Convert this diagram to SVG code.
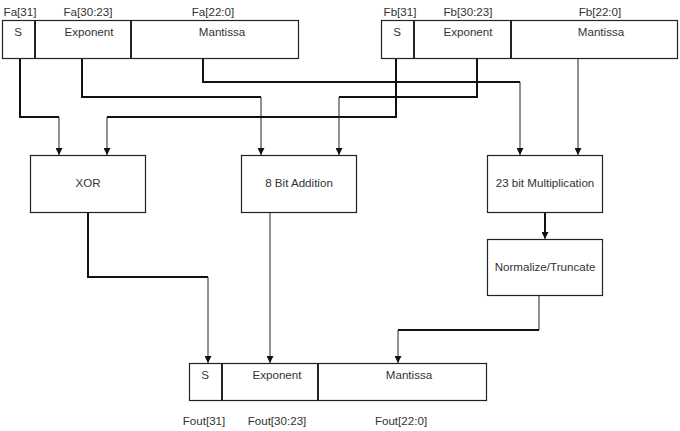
<svg xmlns="http://www.w3.org/2000/svg" width="680" height="431" viewBox="0 0 680 431">
<defs>
<marker id="ah" viewBox="0 0 10 10" refX="10" refY="5" markerWidth="7" markerHeight="7" markerUnits="userSpaceOnUse" orient="auto">
<path d="M0,0 L10,5 L0,10 Z" fill="#111"/>
</marker>
<style>
text{font-family:"Liberation Sans",Arial,sans-serif;font-size:11.6px;fill:#333;text-anchor:middle}
.box{fill:#fff;stroke:#222;stroke-width:1.2}
.div{stroke:#222;stroke-width:2}
.thick{fill:none;stroke:#111;stroke-width:2}
.thin{fill:none;stroke:#222;stroke-width:1}
</style>
</defs>
<rect width="680" height="431" fill="#fff"/>
<g id="Fa">
<rect class="box" x="2.5" y="20.5" width="296" height="38"/>
<line class="div" x1="35" y1="20" x2="35" y2="59"/>
<line class="div" x1="131" y1="20" x2="131" y2="59"/>
<text x="20" y="16">Fa[31]</text>
<text x="88" y="16">Fa[30:23]</text>
<text x="213" y="16">Fa[22:0]</text>
<text x="18" y="36">S</text>
<text x="89" y="36">Exponent</text>
<text x="222" y="36">Mantissa</text>
</g>
<g id="Fb">
<rect class="box" x="381.5" y="20.5" width="296" height="38"/>
<line class="div" x1="414" y1="20" x2="414" y2="59"/>
<line class="div" x1="511" y1="20" x2="511" y2="59"/>
<text x="400" y="16">Fb[31]</text>
<text x="468" y="16">Fb[30:23]</text>
<text x="600" y="16">Fb[22:0]</text>
<text x="397" y="36">S</text>
<text x="468" y="36">Exponent</text>
<text x="601" y="36">Mantissa</text>
</g>
<g id="xor">
<rect class="box" x="30.5" y="155.5" width="115" height="57"/>
<text x="88" y="187">XOR</text>
</g>
<g id="add">
<rect class="box" x="241.5" y="155.5" width="115" height="57"/>
<text x="299" y="187">8 Bit Addition</text>
</g>
<g id="mult">
<rect class="box" x="487.5" y="155.5" width="115" height="57"/>
<text x="545" y="187">23 bit Multiplication</text>
</g>
<g id="norm">
<rect class="box" x="487.5" y="239.5" width="115" height="56"/>
<text x="545" y="271">Normalize/Truncate</text>
</g>
<g id="Fout">
<rect class="box" x="189.5" y="363.5" width="297" height="37"/>
<line class="div" x1="222" y1="363" x2="222" y2="401"/>
<line class="div" x1="318" y1="363" x2="318" y2="401"/>
<text x="205" y="379">S</text>
<text x="277" y="379">Exponent</text>
<text x="409" y="379">Mantissa</text>
<text x="204" y="425">Fout[31]</text>
<text x="277" y="425">Fout[30:23]</text>
<text x="401" y="425">Fout[22:0]</text>
</g>
<g id="connectors">
<path class="thick" d="M20,59 V117 H59"/>
<path class="thin" d="M59,117 V155" marker-end="url(#ah)"/>
<path class="thick" d="M82,59 V97 H261"/>
<path class="thin" d="M261,97 V155" marker-end="url(#ah)"/>
<path class="thick" d="M203,59 V82 H520"/>
<path class="thin" d="M520,82 V155" marker-end="url(#ah)"/>
<path class="thick" d="M396,59 V117 H107"/>
<path class="thin" d="M107,117 V155" marker-end="url(#ah)"/>
<path class="thick" d="M477,59 V97 H339"/>
<path class="thin" d="M339,97 V155" marker-end="url(#ah)"/>
<path class="thin" d="M578,59 V155" marker-end="url(#ah)"/>
<path class="thick" d="M545,213 V232"/>
<path class="thin" d="M545,230 V239" marker-end="url(#ah)"/>
<path class="thick" d="M88,213 V277 H208"/>
<path class="thin" d="M208,277 V363" marker-end="url(#ah)"/>
<path class="thin" d="M270,213 V363" marker-end="url(#ah)"/>
<path class="thin" d="M539,296 V330"/>
<path class="thick" d="M539,330 H398"/>
<path class="thin" d="M398,330 V363" marker-end="url(#ah)"/>
</g>
</svg>
